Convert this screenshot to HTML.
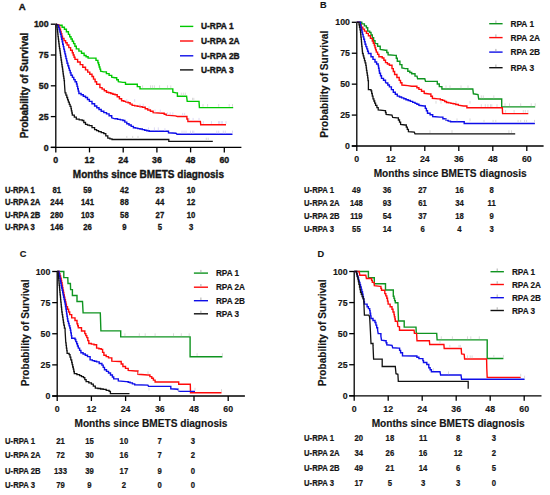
<!DOCTYPE html>
<html><head><meta charset="utf-8"><style>
html,body{margin:0;padding:0;background:#fff;width:550px;height:495px;overflow:hidden}
svg{display:block}
text{font-family:'Liberation Sans', sans-serif;font-weight:bold;fill:#151515;stroke:#151515;stroke-width:0.15px}
.pA text{stroke-width:0.35px}
.tb{stroke-width:0.2px}
.pA .tb{stroke-width:0.3px}
</style></head><body>
<svg width="550" height="495" viewBox="0 0 550 495">
<rect width="550" height="495" fill="#fff"/>
<g class="pA">
<line x1="55.80" y1="24.20" x2="55.80" y2="152.40" stroke="#000" stroke-width="1.3"/>
<line x1="50.80" y1="147.40" x2="241.40" y2="147.40" stroke="#000" stroke-width="1.3"/>
<line x1="50.80" y1="24.20" x2="55.80" y2="24.20" stroke="#000" stroke-width="1.3"/>
<text x="48.60" y="27.30" font-size="8.8" text-anchor="end" >100</text>
<line x1="50.80" y1="55.00" x2="55.80" y2="55.00" stroke="#000" stroke-width="1.3"/>
<text x="48.60" y="58.10" font-size="8.8" text-anchor="end" >75</text>
<line x1="50.80" y1="85.80" x2="55.80" y2="85.80" stroke="#000" stroke-width="1.3"/>
<text x="48.60" y="88.90" font-size="8.8" text-anchor="end" >50</text>
<line x1="50.80" y1="116.60" x2="55.80" y2="116.60" stroke="#000" stroke-width="1.3"/>
<text x="48.60" y="119.70" font-size="8.8" text-anchor="end" >25</text>
<line x1="50.80" y1="147.40" x2="55.80" y2="147.40" stroke="#000" stroke-width="1.3"/>
<text x="48.60" y="150.50" font-size="8.8" text-anchor="end" >0</text>
<text x="55.80" y="163.00" font-size="8.8" text-anchor="middle" >0</text>
<line x1="89.50" y1="147.40" x2="89.50" y2="152.40" stroke="#000" stroke-width="1.3"/>
<text x="89.50" y="163.00" font-size="8.8" text-anchor="middle" >12</text>
<line x1="123.20" y1="147.40" x2="123.20" y2="152.40" stroke="#000" stroke-width="1.3"/>
<text x="123.20" y="163.00" font-size="8.8" text-anchor="middle" >24</text>
<line x1="156.90" y1="147.40" x2="156.90" y2="152.40" stroke="#000" stroke-width="1.3"/>
<text x="156.90" y="163.00" font-size="8.8" text-anchor="middle" >36</text>
<line x1="190.60" y1="147.40" x2="190.60" y2="152.40" stroke="#000" stroke-width="1.3"/>
<text x="190.60" y="163.00" font-size="8.8" text-anchor="middle" >48</text>
<line x1="224.30" y1="147.40" x2="224.30" y2="152.40" stroke="#000" stroke-width="1.3"/>
<text x="224.30" y="163.00" font-size="8.8" text-anchor="middle" >60</text>
<text x="148.40" y="177.90" font-size="10.0" text-anchor="middle" >Months since BMETS diagnosis</text>
<text x="0" y="0" font-size="10.0" text-anchor="middle" transform="translate(27.60,85.50) rotate(-90)">Probability of Survival</text>
<text x="18.80" y="10.40" font-size="9.6" text-anchor="start" >A</text>
<line x1="180.00" y1="26.40" x2="193.30" y2="26.40" stroke="#00c800" stroke-width="1.4"/>
<text x="201.00" y="29.40" font-size="8.4" text-anchor="start" >U-RPA 1</text>
<line x1="180.00" y1="41.00" x2="193.30" y2="41.00" stroke="#ff0a0a" stroke-width="1.4"/>
<text x="201.00" y="44.00" font-size="8.4" text-anchor="start" >U-RPA 2A</text>
<line x1="180.00" y1="55.80" x2="193.30" y2="55.80" stroke="#0e0ee8" stroke-width="1.4"/>
<text x="201.00" y="58.80" font-size="8.4" text-anchor="start" >U-RPA 2B</text>
<line x1="180.00" y1="69.90" x2="193.30" y2="69.90" stroke="#111111" stroke-width="1.4"/>
<text x="201.00" y="72.90" font-size="8.4" text-anchor="start" >U-RPA 3</text>
<polyline points="55.8,24.2 59.8,25.3 62.1,25.3 62.1,27.2 64.4,27.2 64.4,29.2 66.4,29.2 66.4,31.8 68.4,31.8 68.4,34.4 69.7,34.4 69.7,36.7 71.0,36.7 71.0,39.0 72.3,39.0 72.3,41.3 73.6,41.3 73.6,43.6 74.9,43.6 74.9,46.2 76.3,46.2 76.3,48.9 78.9,48.9 78.9,51.1 81.5,51.1 81.5,53.3 84.1,53.3 84.1,55.5 86.1,55.5 86.1,56.8 88.1,56.8 88.1,58.1 94.0,58.1 96.0,58.1 96.0,60.4 97.9,60.4 97.9,62.7 98.6,62.7 98.6,64.8 99.2,64.8 99.2,67.0 99.9,67.0 99.9,69.1 100.6,69.1 100.6,71.2 103.8,71.9 106.4,71.9 106.4,73.6 109.1,73.6 109.1,75.4 111.7,75.4 111.7,77.1 115.0,77.8 116.7,77.8 116.7,79.8 118.3,79.8 118.3,81.7 122.9,82.4 125.5,82.4 125.5,84.3 134.7,84.3 137.3,84.3 137.3,86.6 140.0,86.6 140.0,88.9 170.2,88.9 172.8,88.9 172.8,92.2 176.1,92.9 177.4,92.9 177.4,96.2 186.6,96.2 187.2,101.4 199.0,101.4 199.4,107.6 233.2,107.6" fill="none" stroke="#00c800" stroke-width="1.4" stroke-linejoin="miter" stroke-linecap="butt"/>
<polyline points="55.8,24.2 57.9,24.6 58.8,24.6 58.8,26.9 59.8,26.9 59.8,29.2 60.5,29.2 60.5,31.5 61.1,31.5 61.1,33.8 61.8,33.8 61.8,36.1 62.5,36.1 62.5,38.4 64.0,38.4 64.0,40.6 65.6,40.6 65.6,42.8 67.1,42.8 67.1,45.0 68.8,45.0 68.8,47.6 70.6,47.6 70.6,50.2 72.3,50.2 72.3,52.8 73.2,52.8 73.2,55.0 74.1,55.0 74.1,57.2 75.0,57.2 75.0,59.4 77.6,59.4 77.6,62.0 80.2,62.0 80.2,64.6 82.8,64.6 82.8,67.2 85.5,67.2 85.5,69.9 87.7,69.9 87.7,72.1 89.8,72.1 89.8,74.3 92.0,74.3 92.0,76.5 93.5,76.5 93.5,79.1 95.1,79.1 95.1,81.7 96.6,81.7 96.6,84.3 99.9,84.3 99.9,87.6 102.1,87.6 102.1,89.1 104.3,89.1 104.3,90.7 106.5,90.7 106.5,92.2 108.6,92.2 108.6,92.8 110.8,92.8 110.8,93.5 112.9,93.5 112.9,94.2 115.0,94.2 115.0,94.8 117.2,94.8 117.2,96.8 119.4,96.8 119.4,98.8 121.6,98.8 121.6,100.8 123.8,100.8 123.8,101.4 125.9,101.4 125.9,102.1 128.1,102.1 128.1,102.7 130.1,102.7 130.1,104.1 132.1,104.1 132.1,105.4 134.7,105.4 134.7,105.9 137.3,105.9 137.3,106.3 140.0,106.3 140.0,106.8 142.6,106.8 142.6,107.3 145.2,107.3 145.2,108.7 147.8,108.7 147.8,110.0 150.4,110.0 150.4,111.3 153.1,111.3 153.1,112.6 162.3,113.2 164.2,113.2 164.2,114.2 166.2,114.2 166.2,115.2 175.4,115.9 177.4,116.5 185.9,116.5 186.9,116.5 186.9,119.0 187.9,119.0 187.9,121.5 200.4,121.5 200.7,124.7 226.0,124.7" fill="none" stroke="#ff0a0a" stroke-width="1.4" stroke-linejoin="miter" stroke-linecap="butt"/>
<polyline points="55.8,24.2 57.9,25.3 58.5,25.3 58.5,27.6 59.2,27.6 59.2,29.9 59.9,29.9 59.9,32.1 60.5,32.1 60.5,34.4 61.1,34.4 61.1,36.8 61.6,36.8 61.6,39.3 62.2,39.3 62.2,41.7 62.7,41.7 62.7,44.2 63.3,44.2 63.3,46.6 63.8,46.6 63.8,49.1 64.4,49.1 64.4,51.5 64.9,51.5 64.9,53.9 65.5,53.9 65.5,56.2 66.0,56.2 66.0,58.6 66.6,58.6 66.6,60.9 67.1,60.9 67.1,63.3 67.9,63.3 67.9,65.7 68.7,65.7 68.7,68.1 69.4,68.1 69.4,70.4 70.2,70.4 70.2,72.8 71.0,72.8 71.0,75.2 72.4,75.2 72.4,77.4 73.8,77.4 73.8,79.6 75.1,79.6 75.1,81.8 76.5,81.8 76.5,84.0 77.1,84.0 77.1,86.4 77.7,86.4 77.7,88.8 78.3,88.8 78.3,91.1 78.9,91.1 78.9,93.5 81.1,93.5 81.1,94.8 83.3,94.8 83.3,96.2 85.5,96.2 85.5,97.5 87.5,97.5 87.5,99.5 89.4,99.5 89.4,101.4 92.0,101.4 92.0,103.7 94.6,103.7 94.6,106.0 96.8,106.0 96.8,107.8 99.0,107.8 99.0,109.5 101.2,109.5 101.2,111.3 103.8,111.3 103.8,112.6 106.5,112.6 106.5,113.9 109.1,113.9 109.1,115.8 111.7,115.8 111.7,117.8 115.0,118.8 117.6,118.8 117.6,119.4 120.3,119.4 120.3,119.9 122.9,119.9 122.9,120.5 124.8,120.5 124.8,122.1 126.8,122.1 126.8,123.7 129.0,123.7 129.0,125.0 131.2,125.0 131.2,126.4 133.4,126.4 133.4,127.7 135.6,127.7 135.6,128.1 137.8,128.1 137.8,128.6 140.0,128.6 140.0,129.0 142.3,129.0 142.3,129.6 144.6,129.6 144.6,130.2 146.8,130.2 146.8,130.7 149.1,130.7 149.1,131.3 167.0,131.3 168.5,131.3 168.5,132.8 176.0,133.2 177.0,134.2 232.5,134.2" fill="none" stroke="#0e0ee8" stroke-width="1.4" stroke-linejoin="miter" stroke-linecap="butt"/>
<polyline points="55.8,24.2 56.6,24.6 56.9,24.6 56.9,27.0 57.2,27.0 57.2,29.4 57.5,29.4 57.5,31.8 57.8,31.8 57.8,34.2 58.0,34.2 58.0,36.7 58.3,36.7 58.3,39.1 58.6,39.1 58.6,41.5 58.9,41.5 58.9,43.9 59.2,43.9 59.2,46.3 59.5,46.3 59.5,48.6 59.9,48.6 59.9,50.9 60.2,50.9 60.2,53.2 60.5,53.2 60.5,55.4 60.8,55.4 60.8,57.7 61.1,57.7 61.1,60.0 61.5,60.0 61.5,62.3 61.8,62.3 61.8,64.6 62.1,64.6 62.1,66.9 62.5,66.9 62.5,69.2 62.8,69.2 62.8,71.5 63.1,71.5 63.1,73.8 63.4,73.8 63.4,76.1 63.8,76.1 63.8,78.4 64.1,78.4 64.1,80.7 64.4,80.7 64.4,83.0 65.1,92.9 65.9,92.9 65.9,95.2 66.8,95.2 66.8,97.5 67.6,97.5 67.6,99.8 68.4,99.8 68.4,102.1 69.3,102.1 69.3,104.3 70.1,104.3 70.1,106.4 71.0,106.4 71.0,108.6 71.4,108.6 71.4,110.8 71.9,110.8 71.9,113.0 72.3,113.0 72.3,115.2 74.3,115.2 74.3,117.2 76.3,117.2 76.3,119.1 79.2,119.1 79.2,119.8 82.2,119.8 82.2,120.5 83.8,120.5 83.8,122.5 85.5,122.5 85.5,124.4 87.5,124.4 87.5,125.1 89.4,125.1 89.4,125.7 92.0,125.7 92.0,127.7 94.6,127.7 94.6,129.6 96.6,129.6 96.6,130.6 98.6,130.6 98.6,131.6 101.2,131.6 101.2,132.6 103.8,132.6 103.8,133.6 105.8,133.6 105.8,135.9 107.8,135.9 107.8,138.2 109.9,138.2 109.9,138.8 112.0,138.8 112.0,139.5 167.5,139.5 168.8,139.5 168.8,141.3 212.8,141.3" fill="none" stroke="#111111" stroke-width="1.3" stroke-linejoin="miter" stroke-linecap="butt"/>
<line x1="142.6" y1="85.3" x2="142.6" y2="88.1" stroke="#d2d2d2" stroke-width="0.8"/>
<line x1="150.5" y1="85.3" x2="150.5" y2="88.1" stroke="#d2d2d2" stroke-width="0.8"/>
<line x1="152.4" y1="85.3" x2="152.4" y2="88.1" stroke="#d2d2d2" stroke-width="0.8"/>
<line x1="154.4" y1="85.3" x2="154.4" y2="88.1" stroke="#d2d2d2" stroke-width="0.8"/>
<line x1="159.6" y1="85.3" x2="159.6" y2="88.1" stroke="#d2d2d2" stroke-width="0.8"/>
<line x1="167.5" y1="85.3" x2="167.5" y2="88.1" stroke="#d2d2d2" stroke-width="0.8"/>
<line x1="170.8" y1="85.3" x2="170.8" y2="88.1" stroke="#d2d2d2" stroke-width="0.8"/>
<line x1="181.3" y1="92.6" x2="181.3" y2="95.4" stroke="#d2d2d2" stroke-width="0.8"/>
<line x1="183.3" y1="92.6" x2="183.3" y2="95.4" stroke="#d2d2d2" stroke-width="0.8"/>
<line x1="185.3" y1="92.6" x2="185.3" y2="95.4" stroke="#d2d2d2" stroke-width="0.8"/>
<line x1="192.5" y1="97.8" x2="192.5" y2="100.6" stroke="#d2d2d2" stroke-width="0.8"/>
<line x1="193.8" y1="97.8" x2="193.8" y2="100.6" stroke="#d2d2d2" stroke-width="0.8"/>
<line x1="203.0" y1="104.0" x2="203.0" y2="106.8" stroke="#d2d2d2" stroke-width="0.8"/>
<line x1="207.6" y1="104.0" x2="207.6" y2="106.8" stroke="#d2d2d2" stroke-width="0.8"/>
<line x1="218.7" y1="104.0" x2="218.7" y2="106.8" stroke="#d2d2d2" stroke-width="0.8"/>
<line x1="229.2" y1="104.0" x2="229.2" y2="106.8" stroke="#d2d2d2" stroke-width="0.8"/>
<line x1="232.5" y1="104.0" x2="232.5" y2="106.8" stroke="#d2d2d2" stroke-width="0.8"/>
<line x1="126.8" y1="99.1" x2="126.8" y2="101.9" stroke="#d6d0f2" stroke-width="0.8"/>
<line x1="134.7" y1="99.1" x2="134.7" y2="101.9" stroke="#d6d0f2" stroke-width="0.8"/>
<line x1="140.0" y1="103.7" x2="140.0" y2="106.5" stroke="#d6d0f2" stroke-width="0.8"/>
<line x1="143.2" y1="103.7" x2="143.2" y2="106.5" stroke="#d6d0f2" stroke-width="0.8"/>
<line x1="149.1" y1="106.4" x2="149.1" y2="109.2" stroke="#d6d0f2" stroke-width="0.8"/>
<line x1="155.0" y1="109.6" x2="155.0" y2="112.4" stroke="#d6d0f2" stroke-width="0.8"/>
<line x1="160.3" y1="109.6" x2="160.3" y2="112.4" stroke="#d6d0f2" stroke-width="0.8"/>
<line x1="167.5" y1="112.3" x2="167.5" y2="115.1" stroke="#d6d0f2" stroke-width="0.8"/>
<line x1="170.2" y1="112.3" x2="170.2" y2="115.1" stroke="#d6d0f2" stroke-width="0.8"/>
<line x1="172.8" y1="112.3" x2="172.8" y2="115.1" stroke="#d6d0f2" stroke-width="0.8"/>
<line x1="182.6" y1="112.9" x2="182.6" y2="115.7" stroke="#d6d0f2" stroke-width="0.8"/>
<line x1="184.6" y1="112.9" x2="184.6" y2="115.7" stroke="#d6d0f2" stroke-width="0.8"/>
<line x1="189.2" y1="117.9" x2="189.2" y2="120.7" stroke="#d6d0f2" stroke-width="0.8"/>
<line x1="193.1" y1="117.9" x2="193.1" y2="120.7" stroke="#d6d0f2" stroke-width="0.8"/>
<line x1="199.0" y1="117.9" x2="199.0" y2="120.7" stroke="#d6d0f2" stroke-width="0.8"/>
<line x1="203.3" y1="121.1" x2="203.3" y2="123.9" stroke="#d6d0f2" stroke-width="0.8"/>
<line x1="211.5" y1="121.1" x2="211.5" y2="123.9" stroke="#d6d0f2" stroke-width="0.8"/>
<line x1="218.5" y1="121.1" x2="218.5" y2="123.9" stroke="#d6d0f2" stroke-width="0.8"/>
<line x1="219.6" y1="121.1" x2="219.6" y2="123.9" stroke="#d6d0f2" stroke-width="0.8"/>
<line x1="221.3" y1="121.1" x2="221.3" y2="123.9" stroke="#d6d0f2" stroke-width="0.8"/>
<line x1="222.4" y1="121.1" x2="222.4" y2="123.9" stroke="#d6d0f2" stroke-width="0.8"/>
<line x1="226.0" y1="121.1" x2="226.0" y2="123.9" stroke="#d6d0f2" stroke-width="0.8"/>
<line x1="148.5" y1="127.4" x2="148.5" y2="130.2" stroke="#d6d0f2" stroke-width="0.8"/>
<line x1="154.4" y1="127.4" x2="154.4" y2="130.2" stroke="#d6d0f2" stroke-width="0.8"/>
<line x1="158.3" y1="127.4" x2="158.3" y2="130.2" stroke="#d6d0f2" stroke-width="0.8"/>
<line x1="164.9" y1="128.2" x2="164.9" y2="131.0" stroke="#d6d0f2" stroke-width="0.8"/>
<line x1="182.0" y1="130.6" x2="182.0" y2="133.4" stroke="#d6d0f2" stroke-width="0.8"/>
<line x1="184.0" y1="130.6" x2="184.0" y2="133.4" stroke="#d6d0f2" stroke-width="0.8"/>
<line x1="186.0" y1="130.6" x2="186.0" y2="133.4" stroke="#d6d0f2" stroke-width="0.8"/>
<line x1="190.5" y1="130.6" x2="190.5" y2="133.4" stroke="#d6d0f2" stroke-width="0.8"/>
<line x1="192.5" y1="130.6" x2="192.5" y2="133.4" stroke="#d6d0f2" stroke-width="0.8"/>
<line x1="193.8" y1="130.6" x2="193.8" y2="133.4" stroke="#d6d0f2" stroke-width="0.8"/>
<line x1="216.8" y1="130.6" x2="216.8" y2="133.4" stroke="#d6d0f2" stroke-width="0.8"/>
<line x1="218.7" y1="130.6" x2="218.7" y2="133.4" stroke="#d6d0f2" stroke-width="0.8"/>
<line x1="223.3" y1="130.6" x2="223.3" y2="133.4" stroke="#d6d0f2" stroke-width="0.8"/>
<line x1="225.3" y1="130.6" x2="225.3" y2="133.4" stroke="#d6d0f2" stroke-width="0.8"/>
<line x1="232.5" y1="130.6" x2="232.5" y2="133.4" stroke="#d6d0f2" stroke-width="0.8"/>
<line x1="126.8" y1="135.9" x2="126.8" y2="138.7" stroke="#d2d2d2" stroke-width="0.8"/>
<line x1="132.7" y1="135.9" x2="132.7" y2="138.7" stroke="#d2d2d2" stroke-width="0.8"/>
<line x1="138.0" y1="135.9" x2="138.0" y2="138.7" stroke="#d2d2d2" stroke-width="0.8"/>
<line x1="206.3" y1="137.7" x2="206.3" y2="140.5" stroke="#d2d2d2" stroke-width="0.8"/>
<line x1="208.2" y1="137.7" x2="208.2" y2="140.5" stroke="#d2d2d2" stroke-width="0.8"/>
<text class="tb" x="0" y="0" transform="translate(4.90,192.80) scale(0.93,1)" font-size="8.3" text-anchor="start">U-RPA 1</text>
<text class="tb" x="0" y="0" transform="translate(56.80,192.80) scale(0.93,1)" font-size="8.3" text-anchor="middle">81</text>
<text class="tb" x="0" y="0" transform="translate(87.50,192.80) scale(0.93,1)" font-size="8.3" text-anchor="middle">59</text>
<text class="tb" x="0" y="0" transform="translate(124.40,192.80) scale(0.93,1)" font-size="8.3" text-anchor="middle">42</text>
<text class="tb" x="0" y="0" transform="translate(159.90,192.80) scale(0.93,1)" font-size="8.3" text-anchor="middle">23</text>
<text class="tb" x="0" y="0" transform="translate(191.10,192.80) scale(0.93,1)" font-size="8.3" text-anchor="middle">10</text>
<text class="tb" x="0" y="0" transform="translate(4.90,205.10) scale(0.93,1)" font-size="8.3" text-anchor="start">U-RPA 2A</text>
<text class="tb" x="0" y="0" transform="translate(56.80,205.10) scale(0.93,1)" font-size="8.3" text-anchor="middle">244</text>
<text class="tb" x="0" y="0" transform="translate(87.50,205.10) scale(0.93,1)" font-size="8.3" text-anchor="middle">141</text>
<text class="tb" x="0" y="0" transform="translate(124.40,205.10) scale(0.93,1)" font-size="8.3" text-anchor="middle">88</text>
<text class="tb" x="0" y="0" transform="translate(159.90,205.10) scale(0.93,1)" font-size="8.3" text-anchor="middle">44</text>
<text class="tb" x="0" y="0" transform="translate(191.10,205.10) scale(0.93,1)" font-size="8.3" text-anchor="middle">12</text>
<text class="tb" x="0" y="0" transform="translate(4.90,217.60) scale(0.93,1)" font-size="8.3" text-anchor="start">U-RPA 2B</text>
<text class="tb" x="0" y="0" transform="translate(56.80,217.60) scale(0.93,1)" font-size="8.3" text-anchor="middle">280</text>
<text class="tb" x="0" y="0" transform="translate(87.50,217.60) scale(0.93,1)" font-size="8.3" text-anchor="middle">103</text>
<text class="tb" x="0" y="0" transform="translate(124.40,217.60) scale(0.93,1)" font-size="8.3" text-anchor="middle">58</text>
<text class="tb" x="0" y="0" transform="translate(159.90,217.60) scale(0.93,1)" font-size="8.3" text-anchor="middle">27</text>
<text class="tb" x="0" y="0" transform="translate(191.10,217.60) scale(0.93,1)" font-size="8.3" text-anchor="middle">10</text>
<text class="tb" x="0" y="0" transform="translate(4.90,229.90) scale(0.93,1)" font-size="8.3" text-anchor="start">U-RPA 3</text>
<text class="tb" x="0" y="0" transform="translate(56.80,229.90) scale(0.93,1)" font-size="8.3" text-anchor="middle">146</text>
<text class="tb" x="0" y="0" transform="translate(87.50,229.90) scale(0.93,1)" font-size="8.3" text-anchor="middle">26</text>
<text class="tb" x="0" y="0" transform="translate(124.40,229.90) scale(0.93,1)" font-size="8.3" text-anchor="middle">9</text>
<text class="tb" x="0" y="0" transform="translate(159.90,229.90) scale(0.93,1)" font-size="8.3" text-anchor="middle">5</text>
<text class="tb" x="0" y="0" transform="translate(191.10,229.90) scale(0.93,1)" font-size="8.3" text-anchor="middle">3</text>
</g>
<g class="pB">
<line x1="356.80" y1="22.30" x2="356.80" y2="151.00" stroke="#000" stroke-width="1.3"/>
<line x1="351.80" y1="146.00" x2="543.60" y2="146.00" stroke="#000" stroke-width="1.3"/>
<line x1="351.80" y1="22.30" x2="356.80" y2="22.30" stroke="#000" stroke-width="1.3"/>
<text x="350.00" y="25.40" font-size="8.8" text-anchor="end" >100</text>
<line x1="351.80" y1="53.23" x2="356.80" y2="53.23" stroke="#000" stroke-width="1.3"/>
<text x="350.00" y="56.33" font-size="8.8" text-anchor="end" >75</text>
<line x1="351.80" y1="84.15" x2="356.80" y2="84.15" stroke="#000" stroke-width="1.3"/>
<text x="350.00" y="87.25" font-size="8.8" text-anchor="end" >50</text>
<line x1="351.80" y1="115.08" x2="356.80" y2="115.08" stroke="#000" stroke-width="1.3"/>
<text x="350.00" y="118.17" font-size="8.8" text-anchor="end" >25</text>
<line x1="351.80" y1="146.00" x2="356.80" y2="146.00" stroke="#000" stroke-width="1.3"/>
<text x="350.00" y="149.10" font-size="8.8" text-anchor="end" >0</text>
<text x="356.80" y="161.80" font-size="8.8" text-anchor="middle" >0</text>
<line x1="390.80" y1="146.00" x2="390.80" y2="151.00" stroke="#000" stroke-width="1.3"/>
<text x="390.80" y="161.80" font-size="8.8" text-anchor="middle" >12</text>
<line x1="424.80" y1="146.00" x2="424.80" y2="151.00" stroke="#000" stroke-width="1.3"/>
<text x="424.80" y="161.80" font-size="8.8" text-anchor="middle" >24</text>
<line x1="458.80" y1="146.00" x2="458.80" y2="151.00" stroke="#000" stroke-width="1.3"/>
<text x="458.80" y="161.80" font-size="8.8" text-anchor="middle" >36</text>
<line x1="492.80" y1="146.00" x2="492.80" y2="151.00" stroke="#000" stroke-width="1.3"/>
<text x="492.80" y="161.80" font-size="8.8" text-anchor="middle" >48</text>
<line x1="526.80" y1="146.00" x2="526.80" y2="151.00" stroke="#000" stroke-width="1.3"/>
<text x="526.80" y="161.80" font-size="8.8" text-anchor="middle" >60</text>
<text x="450.20" y="177.30" font-size="10.15" text-anchor="middle" >Months since BMETS diagnosis</text>
<text x="0" y="0" font-size="10.15" text-anchor="middle" transform="translate(328.00,84.20) rotate(-90)">Probability of Survival</text>
<text x="320.00" y="7.70" font-size="9.2" text-anchor="start" >B</text>
<line x1="489.20" y1="23.70" x2="502.60" y2="23.70" stroke="#0f9420" stroke-width="1.4"/>
<line x1="495.9" y1="20.5" x2="495.9" y2="23.1" stroke="#9a9a9a" stroke-width="0.8"/>
<text x="510.40" y="26.70" font-size="8.35" text-anchor="start" >RPA 1</text>
<line x1="489.20" y1="37.60" x2="502.60" y2="37.60" stroke="#ff0a0a" stroke-width="1.4"/>
<line x1="495.9" y1="34.4" x2="495.9" y2="37.0" stroke="#9a9a9a" stroke-width="0.8"/>
<text x="510.40" y="40.60" font-size="8.35" text-anchor="start" >RPA 2A</text>
<line x1="489.20" y1="52.10" x2="502.60" y2="52.10" stroke="#0e0ee8" stroke-width="1.4"/>
<line x1="495.9" y1="48.9" x2="495.9" y2="51.5" stroke="#9a9a9a" stroke-width="0.8"/>
<text x="510.40" y="55.10" font-size="8.35" text-anchor="start" >RPA 2B</text>
<line x1="489.20" y1="67.70" x2="502.60" y2="67.70" stroke="#111111" stroke-width="1.4"/>
<line x1="495.9" y1="64.5" x2="495.9" y2="67.1" stroke="#9a9a9a" stroke-width="0.8"/>
<text x="510.40" y="70.70" font-size="8.35" text-anchor="start" >RPA 3</text>
<polyline points="356.8,22.3 359.2,22.3 361.8,22.3 361.8,23.9 364.4,23.9 364.4,25.9 366.4,25.9 366.4,27.8 367.7,27.8 367.7,31.1 369.7,31.1 369.7,32.4 371.0,32.4 371.0,35.0 372.3,35.0 372.3,37.7 373.6,37.7 373.6,40.7 375.0,40.7 375.0,43.6 377.6,43.6 377.6,46.2 380.2,46.2 380.2,49.5 385.5,50.2 386.8,50.2 386.8,52.5 388.1,52.5 388.1,54.8 395.3,55.4 396.3,55.4 396.3,58.3 397.3,58.3 397.3,61.3 399.9,61.3 399.9,64.6 401.9,64.6 401.9,67.9 405.2,68.6 407.8,68.6 407.8,71.2 409.8,71.2 409.8,72.5 411.7,72.5 411.7,73.8 415.0,73.8 415.0,76.1 417.0,76.1 417.6,78.7 424.8,78.7 425.5,81.4 436.0,81.4 437.3,81.4 437.3,84.0 439.3,84.0 439.3,86.6 441.9,86.6 441.9,89.0 472.8,89.0 473.4,93.8 478.0,94.5 478.7,99.0 501.7,99.0 501.7,106.9 535.2,106.9" fill="none" stroke="#0f9420" stroke-width="1.4" stroke-linejoin="miter" stroke-linecap="butt"/>
<polyline points="356.8,22.3 359.2,22.3 360.2,22.3 360.2,24.8 361.2,24.8 361.2,27.2 362.8,27.2 362.8,29.1 364.4,29.1 364.4,31.1 366.4,31.1 366.4,33.4 368.4,33.4 368.4,35.7 370.4,35.7 370.4,38.4 372.3,38.4 372.3,41.0 373.3,41.0 373.3,43.3 374.3,43.3 374.3,45.6 375.0,45.6 375.0,47.8 375.6,47.8 375.6,49.9 376.3,49.9 376.3,52.1 377.6,52.1 377.6,54.4 378.9,54.4 378.9,56.7 382.2,56.7 382.2,58.0 383.9,58.0 383.9,60.3 385.5,60.3 385.5,62.6 387.4,62.6 387.4,64.0 389.4,64.0 389.4,65.3 392.0,65.3 392.0,68.6 393.3,68.6 393.3,71.5 394.6,71.5 394.6,74.5 396.9,74.5 396.9,77.5 399.2,77.5 399.2,80.4 400.5,80.4 400.5,82.7 401.9,82.7 401.9,85.0 407.8,85.6 411.7,86.3 415.0,86.3 416.9,86.3 416.9,87.8 418.9,87.8 418.9,89.4 421.5,89.4 421.5,91.3 424.2,91.3 424.2,93.3 429.4,94.0 430.9,94.0 430.9,96.2 432.4,96.2 432.4,98.3 438.0,98.9 440.3,98.9 440.3,99.7 442.6,99.7 442.6,100.4 444.6,100.4 444.6,101.5 446.5,101.5 446.5,102.5 448.7,102.5 448.7,102.9 450.9,102.9 450.9,103.4 453.1,103.4 453.1,103.8 455.7,103.8 455.7,104.5 458.3,104.5 458.3,105.2 463.6,106.0 466.9,106.0 466.9,107.8 502.3,107.8 502.6,113.6 528.3,113.6" fill="none" stroke="#ff0a0a" stroke-width="1.4" stroke-linejoin="miter" stroke-linecap="butt"/>
<polyline points="356.8,22.3 358.5,22.3 360.5,22.3 360.5,25.9 361.0,25.9 361.0,28.0 361.5,28.0 361.5,30.1 362.0,30.1 362.0,32.3 362.5,32.3 362.5,34.4 363.1,34.4 363.1,36.9 363.8,36.9 363.8,39.3 364.5,39.3 364.5,41.8 365.1,41.8 365.1,44.3 365.9,44.3 365.9,46.6 366.8,46.6 366.8,48.9 367.6,48.9 367.6,51.2 368.4,51.2 368.4,53.5 371.0,53.5 371.0,56.7 373.0,56.7 373.0,59.4 375.0,59.4 375.0,62.0 376.6,62.0 376.6,64.0 378.2,64.0 378.2,65.9 378.6,65.9 378.6,68.3 379.1,68.3 379.1,70.8 379.5,70.8 379.5,73.2 380.5,73.2 380.5,75.8 381.5,75.8 381.5,78.4 383.5,78.4 383.5,80.3 385.5,80.3 385.5,82.3 386.1,83.0 387.8,83.0 387.8,85.0 389.4,85.0 389.4,86.9 391.4,86.9 391.4,89.6 393.3,89.6 393.3,92.2 395.3,92.2 395.3,94.2 397.3,94.2 397.3,96.1 399.5,96.1 399.5,97.0 401.6,97.0 401.6,97.9 403.8,97.9 403.8,98.8 406.0,98.8 406.0,99.7 408.2,99.7 408.2,100.5 410.4,100.5 410.4,101.4 412.7,101.4 412.7,102.4 415.0,102.4 415.0,103.4 416.9,103.4 416.9,104.3 418.9,104.3 418.9,105.3 424.2,106.0 425.3,106.0 425.3,108.4 426.4,108.4 426.4,110.8 427.5,110.8 427.5,113.2 430.1,113.2 430.1,114.8 432.7,114.8 432.7,116.5 440.0,117.1 442.9,117.1 442.9,118.8 445.9,118.8 445.9,120.4 448.2,120.4 448.2,121.1 450.5,121.1 450.5,121.7 462.9,121.7 464.2,121.7 464.2,123.5 534.9,123.5" fill="none" stroke="#0e0ee8" stroke-width="1.4" stroke-linejoin="miter" stroke-linecap="butt"/>
<polyline points="356.8,22.3 358.5,22.3 359.0,22.3 359.0,24.8 359.5,24.8 359.5,27.4 360.0,27.4 360.0,29.9 360.5,29.9 360.5,32.4 360.7,32.4 360.7,34.7 360.9,34.7 360.9,37.1 361.2,37.1 361.2,39.4 361.4,39.4 361.4,41.8 361.6,41.8 361.6,44.1 361.8,44.1 361.8,46.5 362.1,46.5 362.1,48.8 362.3,48.8 362.3,51.2 362.5,51.2 362.5,53.5 363.2,53.5 363.2,55.9 363.8,55.9 363.8,58.2 364.5,58.2 364.5,60.6 365.1,60.6 365.1,62.9 365.8,62.9 365.8,65.3 366.2,65.3 366.2,67.8 366.5,67.8 366.5,70.4 366.9,70.4 366.9,72.9 367.3,72.9 367.3,75.4 367.7,75.4 367.7,77.9 368.0,77.9 368.0,80.5 368.4,80.5 368.4,83.0 368.4,89.6 371.0,89.6 371.0,90.9 371.7,90.9 371.7,93.5 372.3,93.5 372.3,96.2 373.0,96.2 373.0,98.8 373.9,98.8 373.9,101.0 374.7,101.0 374.7,103.1 375.6,103.1 375.6,105.3 376.9,105.3 376.9,107.6 378.2,107.6 378.2,109.9 384.8,110.6 385.5,110.6 385.5,112.5 386.1,112.5 386.1,114.5 392.0,115.2 392.7,117.4 397.3,117.8 398.4,117.8 398.4,120.0 399.5,120.0 399.5,122.2 400.6,122.2 400.6,124.4 405.2,125.0 406.3,125.0 406.3,127.2 407.3,127.2 407.3,129.4 408.4,129.4 408.4,131.6 414.3,132.2 415.0,133.8 515.2,133.8" fill="none" stroke="#111111" stroke-width="1.3" stroke-linejoin="miter" stroke-linecap="butt"/>
<line x1="481.3" y1="95.4" x2="481.3" y2="98.2" stroke="#d2d2d2" stroke-width="0.8"/>
<line x1="483.3" y1="95.4" x2="483.3" y2="98.2" stroke="#d2d2d2" stroke-width="0.8"/>
<line x1="493.8" y1="95.4" x2="493.8" y2="98.2" stroke="#d2d2d2" stroke-width="0.8"/>
<line x1="505.0" y1="103.3" x2="505.0" y2="106.1" stroke="#d2d2d2" stroke-width="0.8"/>
<line x1="509.5" y1="103.3" x2="509.5" y2="106.1" stroke="#d2d2d2" stroke-width="0.8"/>
<line x1="520.7" y1="103.3" x2="520.7" y2="106.1" stroke="#d2d2d2" stroke-width="0.8"/>
<line x1="531.2" y1="103.3" x2="531.2" y2="106.1" stroke="#d2d2d2" stroke-width="0.8"/>
<line x1="535.2" y1="103.3" x2="535.2" y2="106.1" stroke="#d2d2d2" stroke-width="0.8"/>
<line x1="446.0" y1="85.4" x2="446.0" y2="88.2" stroke="#d2d2d2" stroke-width="0.8"/>
<line x1="450.0" y1="85.4" x2="450.0" y2="88.2" stroke="#d2d2d2" stroke-width="0.8"/>
<line x1="461.0" y1="85.4" x2="461.0" y2="88.2" stroke="#d2d2d2" stroke-width="0.8"/>
<line x1="468.0" y1="85.4" x2="468.0" y2="88.2" stroke="#d2d2d2" stroke-width="0.8"/>
<line x1="481.3" y1="104.2" x2="481.3" y2="107.0" stroke="#d2d2d2" stroke-width="0.8"/>
<line x1="485.3" y1="104.2" x2="485.3" y2="107.0" stroke="#d2d2d2" stroke-width="0.8"/>
<line x1="487.9" y1="104.2" x2="487.9" y2="107.0" stroke="#d2d2d2" stroke-width="0.8"/>
<line x1="490.5" y1="104.2" x2="490.5" y2="107.0" stroke="#d2d2d2" stroke-width="0.8"/>
<line x1="491.8" y1="104.2" x2="491.8" y2="107.0" stroke="#d2d2d2" stroke-width="0.8"/>
<line x1="497.0" y1="104.2" x2="497.0" y2="107.0" stroke="#d2d2d2" stroke-width="0.8"/>
<line x1="505.6" y1="110.0" x2="505.6" y2="112.8" stroke="#d2d2d2" stroke-width="0.8"/>
<line x1="514.1" y1="110.0" x2="514.1" y2="112.8" stroke="#d2d2d2" stroke-width="0.8"/>
<line x1="523.3" y1="110.0" x2="523.3" y2="112.8" stroke="#d2d2d2" stroke-width="0.8"/>
<line x1="525.3" y1="110.0" x2="525.3" y2="112.8" stroke="#d2d2d2" stroke-width="0.8"/>
<line x1="527.9" y1="110.0" x2="527.9" y2="112.8" stroke="#d2d2d2" stroke-width="0.8"/>
<line x1="436.0" y1="100.9" x2="436.0" y2="103.7" stroke="#d2d2d2" stroke-width="0.8"/>
<line x1="441.0" y1="100.9" x2="441.0" y2="103.7" stroke="#d2d2d2" stroke-width="0.8"/>
<line x1="456.0" y1="100.9" x2="456.0" y2="103.7" stroke="#d2d2d2" stroke-width="0.8"/>
<line x1="470.0" y1="100.9" x2="470.0" y2="103.7" stroke="#d2d2d2" stroke-width="0.8"/>
<line x1="484.0" y1="119.9" x2="484.0" y2="122.7" stroke="#d2d2d2" stroke-width="0.8"/>
<line x1="493.1" y1="119.9" x2="493.1" y2="122.7" stroke="#d2d2d2" stroke-width="0.8"/>
<line x1="495.8" y1="119.9" x2="495.8" y2="122.7" stroke="#d2d2d2" stroke-width="0.8"/>
<line x1="518.1" y1="119.9" x2="518.1" y2="122.7" stroke="#d2d2d2" stroke-width="0.8"/>
<line x1="520.7" y1="119.9" x2="520.7" y2="122.7" stroke="#d2d2d2" stroke-width="0.8"/>
<line x1="524.6" y1="119.9" x2="524.6" y2="122.7" stroke="#d2d2d2" stroke-width="0.8"/>
<line x1="526.6" y1="119.9" x2="526.6" y2="122.7" stroke="#d2d2d2" stroke-width="0.8"/>
<line x1="534.5" y1="119.9" x2="534.5" y2="122.7" stroke="#d2d2d2" stroke-width="0.8"/>
<line x1="446.0" y1="118.4" x2="446.0" y2="121.2" stroke="#d2d2d2" stroke-width="0.8"/>
<line x1="457.0" y1="118.4" x2="457.0" y2="121.2" stroke="#d2d2d2" stroke-width="0.8"/>
<line x1="470.0" y1="118.4" x2="470.0" y2="121.2" stroke="#d2d2d2" stroke-width="0.8"/>
<line x1="508.9" y1="130.2" x2="508.9" y2="133.0" stroke="#d2d2d2" stroke-width="0.8"/>
<line x1="511.5" y1="130.2" x2="511.5" y2="133.0" stroke="#d2d2d2" stroke-width="0.8"/>
<line x1="430.0" y1="130.2" x2="430.0" y2="133.0" stroke="#d2d2d2" stroke-width="0.8"/>
<line x1="452.0" y1="130.2" x2="452.0" y2="133.0" stroke="#d2d2d2" stroke-width="0.8"/>
<text class="tb" x="0" y="0" transform="translate(304.00,193.00) scale(0.93,1)" font-size="8.3" text-anchor="start">U-RPA 1</text>
<text class="tb" x="0" y="0" transform="translate(356.40,193.00) scale(0.93,1)" font-size="8.3" text-anchor="middle">49</text>
<text class="tb" x="0" y="0" transform="translate(387.10,193.00) scale(0.93,1)" font-size="8.3" text-anchor="middle">36</text>
<text class="tb" x="0" y="0" transform="translate(422.60,193.00) scale(0.93,1)" font-size="8.3" text-anchor="middle">27</text>
<text class="tb" x="0" y="0" transform="translate(459.50,193.00) scale(0.93,1)" font-size="8.3" text-anchor="middle">16</text>
<text class="tb" x="0" y="0" transform="translate(491.70,193.00) scale(0.93,1)" font-size="8.3" text-anchor="middle">8</text>
<text class="tb" x="0" y="0" transform="translate(304.00,206.10) scale(0.93,1)" font-size="8.3" text-anchor="start">U-RPA 2A</text>
<text class="tb" x="0" y="0" transform="translate(356.40,206.10) scale(0.93,1)" font-size="8.3" text-anchor="middle">148</text>
<text class="tb" x="0" y="0" transform="translate(387.10,206.10) scale(0.93,1)" font-size="8.3" text-anchor="middle">93</text>
<text class="tb" x="0" y="0" transform="translate(422.60,206.10) scale(0.93,1)" font-size="8.3" text-anchor="middle">61</text>
<text class="tb" x="0" y="0" transform="translate(459.50,206.10) scale(0.93,1)" font-size="8.3" text-anchor="middle">34</text>
<text class="tb" x="0" y="0" transform="translate(491.70,206.10) scale(0.93,1)" font-size="8.3" text-anchor="middle">11</text>
<text class="tb" x="0" y="0" transform="translate(304.00,219.20) scale(0.93,1)" font-size="8.3" text-anchor="start">U-RPA 2B</text>
<text class="tb" x="0" y="0" transform="translate(356.40,219.20) scale(0.93,1)" font-size="8.3" text-anchor="middle">119</text>
<text class="tb" x="0" y="0" transform="translate(387.10,219.20) scale(0.93,1)" font-size="8.3" text-anchor="middle">54</text>
<text class="tb" x="0" y="0" transform="translate(422.60,219.20) scale(0.93,1)" font-size="8.3" text-anchor="middle">37</text>
<text class="tb" x="0" y="0" transform="translate(459.50,219.20) scale(0.93,1)" font-size="8.3" text-anchor="middle">18</text>
<text class="tb" x="0" y="0" transform="translate(491.70,219.20) scale(0.93,1)" font-size="8.3" text-anchor="middle">9</text>
<text class="tb" x="0" y="0" transform="translate(304.00,232.30) scale(0.93,1)" font-size="8.3" text-anchor="start">U-RPA 3</text>
<text class="tb" x="0" y="0" transform="translate(356.40,232.30) scale(0.93,1)" font-size="8.3" text-anchor="middle">55</text>
<text class="tb" x="0" y="0" transform="translate(387.10,232.30) scale(0.93,1)" font-size="8.3" text-anchor="middle">14</text>
<text class="tb" x="0" y="0" transform="translate(422.60,232.30) scale(0.93,1)" font-size="8.3" text-anchor="middle">6</text>
<text class="tb" x="0" y="0" transform="translate(459.50,232.30) scale(0.93,1)" font-size="8.3" text-anchor="middle">4</text>
<text class="tb" x="0" y="0" transform="translate(491.70,232.30) scale(0.93,1)" font-size="8.3" text-anchor="middle">3</text>
</g>
<g class="pC">
<line x1="57.20" y1="271.50" x2="57.20" y2="401.00" stroke="#000" stroke-width="1.3"/>
<line x1="52.20" y1="396.00" x2="244.90" y2="396.00" stroke="#000" stroke-width="1.3"/>
<line x1="52.20" y1="271.50" x2="57.20" y2="271.50" stroke="#000" stroke-width="1.3"/>
<text x="50.40" y="274.60" font-size="8.8" text-anchor="end" >100</text>
<line x1="52.20" y1="302.62" x2="57.20" y2="302.62" stroke="#000" stroke-width="1.3"/>
<text x="50.40" y="305.73" font-size="8.8" text-anchor="end" >75</text>
<line x1="52.20" y1="333.75" x2="57.20" y2="333.75" stroke="#000" stroke-width="1.3"/>
<text x="50.40" y="336.85" font-size="8.8" text-anchor="end" >50</text>
<line x1="52.20" y1="364.88" x2="57.20" y2="364.88" stroke="#000" stroke-width="1.3"/>
<text x="50.40" y="367.98" font-size="8.8" text-anchor="end" >25</text>
<line x1="52.20" y1="396.00" x2="57.20" y2="396.00" stroke="#000" stroke-width="1.3"/>
<text x="50.40" y="399.10" font-size="8.8" text-anchor="end" >0</text>
<text x="57.20" y="411.80" font-size="8.8" text-anchor="middle" >0</text>
<line x1="91.40" y1="396.00" x2="91.40" y2="401.00" stroke="#000" stroke-width="1.3"/>
<text x="91.40" y="411.80" font-size="8.8" text-anchor="middle" >12</text>
<line x1="125.60" y1="396.00" x2="125.60" y2="401.00" stroke="#000" stroke-width="1.3"/>
<text x="125.60" y="411.80" font-size="8.8" text-anchor="middle" >24</text>
<line x1="159.80" y1="396.00" x2="159.80" y2="401.00" stroke="#000" stroke-width="1.3"/>
<text x="159.80" y="411.80" font-size="8.8" text-anchor="middle" >36</text>
<line x1="194.00" y1="396.00" x2="194.00" y2="401.00" stroke="#000" stroke-width="1.3"/>
<text x="194.00" y="411.80" font-size="8.8" text-anchor="middle" >48</text>
<line x1="228.20" y1="396.00" x2="228.20" y2="401.00" stroke="#000" stroke-width="1.3"/>
<text x="228.20" y="411.80" font-size="8.8" text-anchor="middle" >60</text>
<text x="151.00" y="426.80" font-size="10.15" text-anchor="middle" >Months since BMETS diagnosis</text>
<text x="0" y="0" font-size="10.15" text-anchor="middle" transform="translate(28.90,332.90) rotate(-90)">Probability of Survival</text>
<text x="19.80" y="257.00" font-size="9.2" text-anchor="start" >C</text>
<line x1="193.90" y1="273.10" x2="208.00" y2="273.10" stroke="#0f9420" stroke-width="1.4"/>
<line x1="200.9" y1="269.9" x2="200.9" y2="272.5" stroke="#9a9a9a" stroke-width="0.8"/>
<text x="215.90" y="276.10" font-size="8.2" text-anchor="start" >RPA 1</text>
<line x1="193.90" y1="287.20" x2="208.00" y2="287.20" stroke="#ff0a0a" stroke-width="1.4"/>
<line x1="200.9" y1="284.0" x2="200.9" y2="286.6" stroke="#9a9a9a" stroke-width="0.8"/>
<text x="215.90" y="290.20" font-size="8.2" text-anchor="start" >RPA 2A</text>
<line x1="193.90" y1="300.70" x2="208.00" y2="300.70" stroke="#0e0ee8" stroke-width="1.4"/>
<line x1="200.9" y1="297.5" x2="200.9" y2="300.1" stroke="#9a9a9a" stroke-width="0.8"/>
<text x="215.90" y="303.70" font-size="8.2" text-anchor="start" >RPA 2B</text>
<line x1="193.90" y1="313.80" x2="208.00" y2="313.80" stroke="#111111" stroke-width="1.4"/>
<line x1="200.9" y1="310.6" x2="200.9" y2="313.2" stroke="#9a9a9a" stroke-width="0.8"/>
<text x="215.90" y="316.80" font-size="8.2" text-anchor="start" >RPA 3</text>
<polyline points="57.2,271.5 63.8,271.5 63.8,277.6 67.8,277.6 68.0,283.5 70.4,283.5 70.6,289.6 72.4,289.6 72.4,295.5 77.0,295.5 77.0,301.5 82.5,301.5 83.1,312.9 100.3,312.9 100.9,330.9 120.7,330.9 120.7,336.9 190.1,336.9 190.1,356.8 222.4,356.8" fill="none" stroke="#0f9420" stroke-width="1.4" stroke-linejoin="miter" stroke-linecap="butt"/>
<polyline points="57.2,271.5 58.6,271.5 59.2,271.5 59.2,273.7 59.9,273.7 59.9,275.9 60.6,275.9 60.6,278.2 61.2,278.2 61.2,280.4 61.6,280.4 61.6,282.8 62.1,282.8 62.1,285.2 62.5,285.2 62.5,287.6 62.9,287.6 62.9,290.1 63.4,290.1 63.4,292.5 63.8,292.5 63.8,294.9 64.3,294.9 64.3,297.3 64.8,297.3 64.8,299.6 65.4,299.6 65.4,302.0 65.9,302.0 65.9,304.3 66.4,304.3 66.4,306.7 67.5,306.7 67.5,309.3 68.6,309.3 68.6,312.0 69.7,312.0 69.7,314.6 71.7,314.6 71.7,317.9 75.0,317.9 75.0,320.5 77.0,320.5 77.0,323.8 77.7,323.8 77.7,325.8 78.3,325.8 78.3,327.7 81.5,327.7 81.5,331.0 84.8,331.0 84.8,333.6 85.8,333.6 85.8,335.6 86.8,335.6 86.8,337.6 87.8,337.6 87.8,340.6 88.8,340.6 88.8,343.5 91.4,343.5 91.4,344.1 94.0,344.1 94.0,344.8 96.6,344.8 96.6,348.1 98.9,348.1 98.9,348.8 101.2,348.8 101.2,349.4 102.6,349.4 102.6,352.4 103.9,352.4 103.9,355.3 106.2,355.3 106.2,356.6 108.5,356.6 108.5,357.9 111.8,357.9 111.8,361.2 119.6,361.5 121.2,361.5 121.2,364.0 122.9,364.0 122.9,366.5 125.5,366.5 125.5,368.4 128.2,368.4 128.2,370.4 135.4,371.0 138.0,371.0 138.0,374.3 147.9,375.0 149.9,375.0 149.9,376.6 151.8,376.6 151.8,378.3 153.4,378.3 153.4,380.1 155.1,380.1 155.1,382.0 177.4,382.0 178.7,382.0 178.7,384.3 190.3,384.3 190.5,392.7 221.5,392.7" fill="none" stroke="#ff0a0a" stroke-width="1.4" stroke-linejoin="miter" stroke-linecap="butt"/>
<polyline points="57.2,271.5 58.6,271.5 59.0,271.5 59.0,273.9 59.5,273.9 59.5,276.2 59.9,276.2 59.9,278.6 60.3,278.6 60.3,281.0 60.8,281.0 60.8,283.3 61.2,283.3 61.2,285.7 61.7,285.7 61.7,288.0 62.2,288.0 62.2,290.3 62.7,290.3 62.7,292.6 63.1,292.6 63.1,294.9 63.6,294.9 63.6,297.2 64.1,297.2 64.1,299.5 64.6,299.5 64.6,301.8 65.1,301.8 65.1,304.1 65.5,304.1 65.5,306.5 65.9,306.5 65.9,309.0 66.3,309.0 66.3,311.4 66.6,311.4 66.6,313.9 67.0,313.9 67.0,316.3 67.4,316.3 67.4,318.8 67.8,318.8 67.8,321.2 68.5,321.2 68.5,323.5 69.1,323.5 69.1,325.8 69.8,325.8 69.8,328.0 70.4,328.0 70.4,330.3 70.8,330.3 70.8,332.9 71.3,332.9 71.3,335.6 71.7,335.6 71.7,338.2 75.0,338.2 75.0,339.5 75.8,339.5 75.8,341.6 76.7,341.6 76.7,343.8 77.5,343.8 77.5,346.0 78.3,346.0 78.3,348.1 79.6,348.1 79.6,350.4 80.9,350.4 80.9,352.7 83.1,352.7 83.1,354.0 85.3,354.0 85.3,355.3 87.5,355.3 87.5,356.6 90.1,356.6 90.1,359.9 92.3,359.9 92.3,360.6 94.4,360.6 94.4,361.2 96.6,361.2 96.6,361.9 99.2,361.9 99.2,363.5 101.9,363.5 101.9,365.1 103.2,365.1 103.2,367.4 104.5,367.4 104.5,369.7 106.5,369.7 106.5,371.4 108.5,371.4 108.5,373.0 110.5,373.0 110.5,375.0 112.4,375.0 112.4,377.0 113.7,377.0 113.7,378.9 117.0,378.9 118.3,378.9 118.3,380.9 126.2,381.6 128.2,381.6 128.2,382.2 130.1,382.2 130.1,382.9 132.4,382.9 132.4,383.9 134.7,383.9 134.7,384.8 147.9,385.1 148.5,386.4 169.5,386.4 170.8,386.4 170.8,388.8 178.1,389.2 178.7,391.4 195.0,391.4" fill="none" stroke="#0e0ee8" stroke-width="1.4" stroke-linejoin="miter" stroke-linecap="butt"/>
<polyline points="57.2,271.5 57.9,271.5 58.1,271.5 58.1,273.8 58.3,273.8 58.3,276.1 58.6,276.1 58.6,278.4 58.8,278.4 58.8,280.7 59.0,280.7 59.0,283.1 59.2,283.1 59.2,285.4 59.5,285.4 59.5,287.7 59.7,287.7 59.7,290.0 59.9,290.0 59.9,292.3 60.1,292.3 60.1,294.8 60.4,294.8 60.4,297.2 60.6,297.2 60.6,299.7 60.8,299.7 60.8,302.1 61.1,302.1 61.1,304.6 61.3,304.6 61.3,307.1 61.6,307.1 61.6,309.5 61.8,309.5 61.8,312.0 62.2,312.0 62.2,314.6 62.6,314.6 62.6,317.2 63.0,317.2 63.0,319.9 63.4,319.9 63.4,322.5 63.8,322.5 63.8,325.1 64.4,325.1 64.4,328.1 65.1,328.1 65.1,331.0 65.8,342.8 66.1,342.8 66.1,345.4 66.4,345.4 66.4,348.1 66.8,348.1 66.8,350.7 67.1,350.7 67.1,353.3 69.1,353.3 69.1,354.6 70.0,354.6 70.0,357.2 70.8,357.2 70.8,359.9 71.7,359.9 71.7,362.5 72.2,362.5 72.2,364.7 72.7,364.7 72.7,367.0 73.3,367.0 73.3,369.2 73.8,369.2 73.8,371.5 74.3,371.5 74.3,373.7 76.9,373.7 76.9,374.6 79.6,374.6 79.6,375.6 81.5,375.6 81.5,376.6 83.5,376.6 83.5,377.6 84.8,377.6 84.8,379.6 86.1,379.6 86.1,381.6 88.8,381.6 88.8,382.9 91.4,382.9 91.4,384.2 93.3,384.2 93.3,386.1 95.3,386.1 95.3,388.1 97.9,388.1 97.9,388.5 100.6,388.5 100.6,389.0 103.2,389.0 103.2,389.4 106.2,389.4 106.2,390.4 109.1,390.4 109.1,391.4 110.4,391.4 110.4,393.6 129.5,393.6" fill="none" stroke="#111111" stroke-width="1.3" stroke-linejoin="miter" stroke-linecap="butt"/>
<line x1="124.9" y1="333.3" x2="124.9" y2="336.1" stroke="#d2d2d2" stroke-width="0.8"/>
<line x1="139.3" y1="333.3" x2="139.3" y2="336.1" stroke="#d2d2d2" stroke-width="0.8"/>
<line x1="145.2" y1="333.3" x2="145.2" y2="336.1" stroke="#d2d2d2" stroke-width="0.8"/>
<line x1="155.1" y1="333.3" x2="155.1" y2="336.1" stroke="#d2d2d2" stroke-width="0.8"/>
<line x1="173.5" y1="333.3" x2="173.5" y2="336.1" stroke="#d2d2d2" stroke-width="0.8"/>
<line x1="181.3" y1="333.3" x2="181.3" y2="336.1" stroke="#d2d2d2" stroke-width="0.8"/>
<line x1="189.2" y1="333.3" x2="189.2" y2="336.1" stroke="#d2d2d2" stroke-width="0.8"/>
<line x1="197.1" y1="353.2" x2="197.1" y2="356.0" stroke="#d2d2d2" stroke-width="0.8"/>
<line x1="222.4" y1="353.2" x2="222.4" y2="356.0" stroke="#d2d2d2" stroke-width="0.8"/>
<line x1="138.5" y1="371.4" x2="138.5" y2="374.2" stroke="#d2d2d2" stroke-width="0.8"/>
<line x1="148.0" y1="371.4" x2="148.0" y2="374.2" stroke="#d2d2d2" stroke-width="0.8"/>
<line x1="178.7" y1="389.1" x2="178.7" y2="391.9" stroke="#d2d2d2" stroke-width="0.8"/>
<line x1="221.5" y1="389.1" x2="221.5" y2="391.9" stroke="#d2d2d2" stroke-width="0.8"/>
<line x1="149.0" y1="387.8" x2="149.0" y2="390.6" stroke="#d2d2d2" stroke-width="0.8"/>
<line x1="195.0" y1="387.8" x2="195.0" y2="390.6" stroke="#d2d2d2" stroke-width="0.8"/>
<text class="tb" x="0" y="0" transform="translate(5.00,443.50) scale(0.93,1)" font-size="8.3" text-anchor="start">U-RPA 1</text>
<text class="tb" x="0" y="0" transform="translate(60.50,443.50) scale(0.93,1)" font-size="8.3" text-anchor="middle">21</text>
<text class="tb" x="0" y="0" transform="translate(89.50,443.50) scale(0.93,1)" font-size="8.3" text-anchor="middle">15</text>
<text class="tb" x="0" y="0" transform="translate(123.90,443.50) scale(0.93,1)" font-size="8.3" text-anchor="middle">10</text>
<text class="tb" x="0" y="0" transform="translate(159.60,443.50) scale(0.93,1)" font-size="8.3" text-anchor="middle">7</text>
<text class="tb" x="0" y="0" transform="translate(193.00,443.50) scale(0.93,1)" font-size="8.3" text-anchor="middle">3</text>
<text class="tb" x="0" y="0" transform="translate(5.00,458.20) scale(0.93,1)" font-size="8.3" text-anchor="start">U-RPA 2A</text>
<text class="tb" x="0" y="0" transform="translate(60.50,458.20) scale(0.93,1)" font-size="8.3" text-anchor="middle">72</text>
<text class="tb" x="0" y="0" transform="translate(89.50,458.20) scale(0.93,1)" font-size="8.3" text-anchor="middle">30</text>
<text class="tb" x="0" y="0" transform="translate(123.90,458.20) scale(0.93,1)" font-size="8.3" text-anchor="middle">16</text>
<text class="tb" x="0" y="0" transform="translate(159.60,458.20) scale(0.93,1)" font-size="8.3" text-anchor="middle">7</text>
<text class="tb" x="0" y="0" transform="translate(193.00,458.20) scale(0.93,1)" font-size="8.3" text-anchor="middle">2</text>
<text class="tb" x="0" y="0" transform="translate(5.00,473.70) scale(0.93,1)" font-size="8.3" text-anchor="start">U-RPA 2B</text>
<text class="tb" x="0" y="0" transform="translate(60.50,473.70) scale(0.93,1)" font-size="8.3" text-anchor="middle">133</text>
<text class="tb" x="0" y="0" transform="translate(89.50,473.70) scale(0.93,1)" font-size="8.3" text-anchor="middle">39</text>
<text class="tb" x="0" y="0" transform="translate(123.90,473.70) scale(0.93,1)" font-size="8.3" text-anchor="middle">17</text>
<text class="tb" x="0" y="0" transform="translate(159.60,473.70) scale(0.93,1)" font-size="8.3" text-anchor="middle">9</text>
<text class="tb" x="0" y="0" transform="translate(193.00,473.70) scale(0.93,1)" font-size="8.3" text-anchor="middle">0</text>
<text class="tb" x="0" y="0" transform="translate(5.00,488.40) scale(0.93,1)" font-size="8.3" text-anchor="start">U-RPA 3</text>
<text class="tb" x="0" y="0" transform="translate(60.50,488.40) scale(0.93,1)" font-size="8.3" text-anchor="middle">79</text>
<text class="tb" x="0" y="0" transform="translate(89.50,488.40) scale(0.93,1)" font-size="8.3" text-anchor="middle">9</text>
<text class="tb" x="0" y="0" transform="translate(123.90,488.40) scale(0.93,1)" font-size="8.3" text-anchor="middle">2</text>
<text class="tb" x="0" y="0" transform="translate(159.60,488.40) scale(0.93,1)" font-size="8.3" text-anchor="middle">0</text>
<text class="tb" x="0" y="0" transform="translate(193.00,488.40) scale(0.93,1)" font-size="8.3" text-anchor="middle">0</text>
</g>
<g class="pD">
<line x1="354.20" y1="271.50" x2="354.20" y2="400.80" stroke="#000" stroke-width="1.3"/>
<line x1="349.20" y1="395.80" x2="541.50" y2="395.80" stroke="#000" stroke-width="1.3"/>
<line x1="349.20" y1="271.50" x2="354.20" y2="271.50" stroke="#000" stroke-width="1.3"/>
<text x="347.60" y="274.60" font-size="8.8" text-anchor="end" >100</text>
<line x1="349.20" y1="302.57" x2="354.20" y2="302.57" stroke="#000" stroke-width="1.3"/>
<text x="347.60" y="305.68" font-size="8.8" text-anchor="end" >75</text>
<line x1="349.20" y1="333.65" x2="354.20" y2="333.65" stroke="#000" stroke-width="1.3"/>
<text x="347.60" y="336.75" font-size="8.8" text-anchor="end" >50</text>
<line x1="349.20" y1="364.73" x2="354.20" y2="364.73" stroke="#000" stroke-width="1.3"/>
<text x="347.60" y="367.83" font-size="8.8" text-anchor="end" >25</text>
<line x1="349.20" y1="395.80" x2="354.20" y2="395.80" stroke="#000" stroke-width="1.3"/>
<text x="347.60" y="398.90" font-size="8.8" text-anchor="end" >0</text>
<text x="354.20" y="411.70" font-size="8.8" text-anchor="middle" >0</text>
<line x1="388.20" y1="395.80" x2="388.20" y2="400.80" stroke="#000" stroke-width="1.3"/>
<text x="388.20" y="411.70" font-size="8.8" text-anchor="middle" >12</text>
<line x1="422.20" y1="395.80" x2="422.20" y2="400.80" stroke="#000" stroke-width="1.3"/>
<text x="422.20" y="411.70" font-size="8.8" text-anchor="middle" >24</text>
<line x1="456.20" y1="395.80" x2="456.20" y2="400.80" stroke="#000" stroke-width="1.3"/>
<text x="456.20" y="411.70" font-size="8.8" text-anchor="middle" >36</text>
<line x1="490.20" y1="395.80" x2="490.20" y2="400.80" stroke="#000" stroke-width="1.3"/>
<text x="490.20" y="411.70" font-size="8.8" text-anchor="middle" >48</text>
<line x1="524.20" y1="395.80" x2="524.20" y2="400.80" stroke="#000" stroke-width="1.3"/>
<text x="524.20" y="411.70" font-size="8.8" text-anchor="middle" >60</text>
<text x="448.20" y="427.20" font-size="10.15" text-anchor="middle" >Months since BMETS diagnosis</text>
<text x="0" y="0" font-size="10.15" text-anchor="middle" transform="translate(326.00,332.90) rotate(-90)">Probability of Survival</text>
<text x="317.40" y="257.00" font-size="9.2" text-anchor="start" >D</text>
<line x1="490.50" y1="271.70" x2="503.90" y2="271.70" stroke="#0f9420" stroke-width="1.4"/>
<line x1="497.2" y1="268.5" x2="497.2" y2="271.1" stroke="#9a9a9a" stroke-width="0.8"/>
<text x="511.90" y="274.70" font-size="8.2" text-anchor="start" >RPA 1</text>
<line x1="490.50" y1="284.50" x2="503.90" y2="284.50" stroke="#ff0a0a" stroke-width="1.4"/>
<line x1="497.2" y1="281.3" x2="497.2" y2="283.9" stroke="#9a9a9a" stroke-width="0.8"/>
<text x="511.90" y="287.50" font-size="8.2" text-anchor="start" >RPA 2A</text>
<line x1="490.50" y1="297.70" x2="503.90" y2="297.70" stroke="#0e0ee8" stroke-width="1.4"/>
<line x1="497.2" y1="294.5" x2="497.2" y2="297.1" stroke="#9a9a9a" stroke-width="0.8"/>
<text x="511.90" y="300.70" font-size="8.2" text-anchor="start" >RPA 2B</text>
<line x1="490.50" y1="310.50" x2="503.90" y2="310.50" stroke="#111111" stroke-width="1.4"/>
<line x1="497.2" y1="307.3" x2="497.2" y2="309.9" stroke="#9a9a9a" stroke-width="0.8"/>
<text x="511.90" y="313.50" font-size="8.2" text-anchor="start" >RPA 3</text>
<polyline points="354.2,271.5 368.4,271.5 368.4,277.8 374.3,277.8 374.3,283.7 385.5,283.7 385.5,290.0 393.3,290.0 393.3,296.2 394.0,296.2 394.0,298.4 394.6,298.4 394.6,300.6 395.3,300.6 395.3,302.8 397.9,302.8 398.5,321.0 404.2,321.0 404.2,327.1 416.0,327.1 416.3,333.4 436.7,333.4 437.1,339.9 487.2,339.9 487.2,358.5 503.4,358.5" fill="none" stroke="#0f9420" stroke-width="1.4" stroke-linejoin="miter" stroke-linecap="butt"/>
<polyline points="354.2,271.5 359.2,271.5 359.8,275.2 365.8,275.2 366.4,278.5 371.0,278.5 371.6,278.5 371.6,280.4 372.3,280.4 372.3,282.4 374.3,282.4 374.3,285.7 380.2,286.4 380.9,286.4 380.9,288.4 381.5,288.4 381.5,290.3 384.8,290.3 384.8,293.6 385.8,293.6 385.8,295.9 386.8,295.9 386.8,298.2 387.5,298.2 387.5,301.1 388.1,301.1 388.1,304.1 390.1,304.1 390.1,306.7 392.0,306.7 392.0,309.3 393.0,309.3 393.0,312.0 394.0,312.0 394.0,314.6 394.4,314.6 394.4,316.8 394.9,316.8 394.9,319.0 395.3,319.0 395.3,321.2 397.5,321.2 397.5,322.6 397.9,326.5 399.5,326.8 399.5,330.3 414.1,330.3 414.4,333.4 416.6,333.4 417.0,340.8 429.4,340.8 429.7,344.5 443.9,344.5 444.2,348.5 461.2,348.5 461.6,354.0 464.2,354.4 464.6,359.0 486.6,359.0 486.8,368.6 487.2,377.4 520.7,377.4" fill="none" stroke="#ff0a0a" stroke-width="1.4" stroke-linejoin="miter" stroke-linecap="butt"/>
<polyline points="354.2,271.5 355.9,271.5 356.6,271.5 356.6,273.6 357.2,273.6 357.2,275.7 357.9,275.7 357.9,277.8 358.5,277.8 358.5,280.1 359.2,280.1 359.2,282.4 359.9,282.4 359.9,284.7 360.5,284.7 360.5,287.0 361.2,287.0 361.2,289.4 361.8,289.4 361.8,291.8 362.5,291.8 362.5,294.2 363.0,294.2 363.0,296.7 363.4,296.7 363.4,299.1 363.9,299.1 363.9,301.6 364.4,301.6 364.4,304.1 367.1,304.1 367.1,306.7 368.4,306.7 368.4,308.6 369.7,308.6 369.7,310.6 370.1,310.6 370.1,313.2 370.6,313.2 370.6,315.9 371.0,315.9 371.0,318.5 373.0,318.5 373.0,320.5 375.0,320.5 375.0,322.5 375.9,322.5 375.9,325.1 376.7,325.1 376.7,327.7 377.6,327.7 377.6,330.3 378.2,333.6 380.9,333.6 380.9,336.3 381.5,340.2 385.5,340.8 386.1,340.8 386.1,342.8 386.8,342.8 386.8,344.8 392.0,345.4 392.7,347.8 398.6,348.1 399.6,348.1 399.6,350.4 400.6,350.4 400.6,352.7 402.5,352.7 402.5,355.8 415.0,356.0 416.9,356.0 416.9,357.3 418.9,357.3 418.9,358.6 422.2,358.6 422.9,358.6 422.9,360.6 423.5,360.6 423.5,362.5 426.8,362.5 426.8,364.5 428.8,364.5 428.8,367.8 430.1,367.8 430.1,369.8 431.4,369.8 431.4,371.7 440.0,371.7 440.6,375.0 461.0,375.0 461.6,379.3 524.6,379.3" fill="none" stroke="#0e0ee8" stroke-width="1.4" stroke-linejoin="miter" stroke-linecap="butt"/>
<polyline points="354.2,271.5 355.9,271.5 356.6,271.5 356.6,274.0 357.2,274.0 357.2,276.6 357.9,276.6 357.9,279.1 358.4,279.1 358.4,281.7 358.9,281.7 358.9,284.4 359.5,284.4 359.5,287.0 360.0,287.0 360.0,289.7 360.5,289.7 360.5,292.3 361.3,292.3 361.3,294.4 362.1,294.4 362.1,296.6 363.0,296.6 363.0,298.7 363.8,298.7 363.8,300.8 364.4,315.2 369.0,315.2 369.7,317.9 370.4,331.0 371.0,343.5 373.0,343.5 373.0,345.4 373.6,359.2 382.2,359.2 382.2,366.5 395.3,366.5 396.0,373.7 397.9,374.3 398.3,381.4 468.2,381.4 468.2,388.7" fill="none" stroke="#111111" stroke-width="1.3" stroke-linejoin="miter" stroke-linecap="butt"/>
<line x1="441.3" y1="336.3" x2="441.3" y2="339.1" stroke="#d2d2d2" stroke-width="0.8"/>
<line x1="452.4" y1="336.3" x2="452.4" y2="339.1" stroke="#d2d2d2" stroke-width="0.8"/>
<line x1="467.5" y1="336.3" x2="467.5" y2="339.1" stroke="#d2d2d2" stroke-width="0.8"/>
<line x1="470.8" y1="336.3" x2="470.8" y2="339.1" stroke="#d2d2d2" stroke-width="0.8"/>
<line x1="479.3" y1="336.3" x2="479.3" y2="339.1" stroke="#d2d2d2" stroke-width="0.8"/>
<line x1="493.8" y1="354.9" x2="493.8" y2="357.7" stroke="#d2d2d2" stroke-width="0.8"/>
<line x1="503.4" y1="354.9" x2="503.4" y2="357.7" stroke="#d2d2d2" stroke-width="0.8"/>
<line x1="440.0" y1="340.9" x2="440.0" y2="343.7" stroke="#d2d2d2" stroke-width="0.8"/>
<line x1="449.8" y1="344.9" x2="449.8" y2="347.7" stroke="#d2d2d2" stroke-width="0.8"/>
<line x1="459.0" y1="344.9" x2="459.0" y2="347.7" stroke="#d2d2d2" stroke-width="0.8"/>
<line x1="460.3" y1="344.9" x2="460.3" y2="347.7" stroke="#d2d2d2" stroke-width="0.8"/>
<line x1="467.5" y1="355.4" x2="467.5" y2="358.2" stroke="#d2d2d2" stroke-width="0.8"/>
<line x1="470.2" y1="355.4" x2="470.2" y2="358.2" stroke="#d2d2d2" stroke-width="0.8"/>
<line x1="472.1" y1="355.4" x2="472.1" y2="358.2" stroke="#d2d2d2" stroke-width="0.8"/>
<line x1="520.7" y1="373.8" x2="520.7" y2="376.6" stroke="#d2d2d2" stroke-width="0.8"/>
<line x1="433.4" y1="368.1" x2="433.4" y2="370.9" stroke="#d2d2d2" stroke-width="0.8"/>
<line x1="448.5" y1="371.4" x2="448.5" y2="374.2" stroke="#d2d2d2" stroke-width="0.8"/>
<line x1="524.6" y1="375.7" x2="524.6" y2="378.5" stroke="#d2d2d2" stroke-width="0.8"/>
<text class="tb" x="0" y="0" transform="translate(304.00,441.10) scale(0.93,1)" font-size="8.3" text-anchor="start">U-RPA 1</text>
<text class="tb" x="0" y="0" transform="translate(358.80,441.10) scale(0.93,1)" font-size="8.3" text-anchor="middle">20</text>
<text class="tb" x="0" y="0" transform="translate(389.90,441.10) scale(0.93,1)" font-size="8.3" text-anchor="middle">18</text>
<text class="tb" x="0" y="0" transform="translate(423.10,441.10) scale(0.93,1)" font-size="8.3" text-anchor="middle">11</text>
<text class="tb" x="0" y="0" transform="translate(458.10,441.10) scale(0.93,1)" font-size="8.3" text-anchor="middle">8</text>
<text class="tb" x="0" y="0" transform="translate(493.80,441.10) scale(0.93,1)" font-size="8.3" text-anchor="middle">3</text>
<text class="tb" x="0" y="0" transform="translate(304.00,456.20) scale(0.93,1)" font-size="8.3" text-anchor="start">U-RPA 2A</text>
<text class="tb" x="0" y="0" transform="translate(358.80,456.20) scale(0.93,1)" font-size="8.3" text-anchor="middle">34</text>
<text class="tb" x="0" y="0" transform="translate(389.90,456.20) scale(0.93,1)" font-size="8.3" text-anchor="middle">26</text>
<text class="tb" x="0" y="0" transform="translate(423.10,456.20) scale(0.93,1)" font-size="8.3" text-anchor="middle">16</text>
<text class="tb" x="0" y="0" transform="translate(458.10,456.20) scale(0.93,1)" font-size="8.3" text-anchor="middle">12</text>
<text class="tb" x="0" y="0" transform="translate(493.80,456.20) scale(0.93,1)" font-size="8.3" text-anchor="middle">2</text>
<text class="tb" x="0" y="0" transform="translate(304.00,471.30) scale(0.93,1)" font-size="8.3" text-anchor="start">U-RPA 2B</text>
<text class="tb" x="0" y="0" transform="translate(358.80,471.30) scale(0.93,1)" font-size="8.3" text-anchor="middle">49</text>
<text class="tb" x="0" y="0" transform="translate(389.90,471.30) scale(0.93,1)" font-size="8.3" text-anchor="middle">21</text>
<text class="tb" x="0" y="0" transform="translate(423.10,471.30) scale(0.93,1)" font-size="8.3" text-anchor="middle">14</text>
<text class="tb" x="0" y="0" transform="translate(458.10,471.30) scale(0.93,1)" font-size="8.3" text-anchor="middle">6</text>
<text class="tb" x="0" y="0" transform="translate(493.80,471.30) scale(0.93,1)" font-size="8.3" text-anchor="middle">5</text>
<text class="tb" x="0" y="0" transform="translate(304.00,486.10) scale(0.93,1)" font-size="8.3" text-anchor="start">U-RPA 3</text>
<text class="tb" x="0" y="0" transform="translate(358.80,486.10) scale(0.93,1)" font-size="8.3" text-anchor="middle">17</text>
<text class="tb" x="0" y="0" transform="translate(389.90,486.10) scale(0.93,1)" font-size="8.3" text-anchor="middle">5</text>
<text class="tb" x="0" y="0" transform="translate(423.10,486.10) scale(0.93,1)" font-size="8.3" text-anchor="middle">3</text>
<text class="tb" x="0" y="0" transform="translate(458.10,486.10) scale(0.93,1)" font-size="8.3" text-anchor="middle">3</text>
<text class="tb" x="0" y="0" transform="translate(493.80,486.10) scale(0.93,1)" font-size="8.3" text-anchor="middle">0</text>
</g>
</svg>
</body></html>
